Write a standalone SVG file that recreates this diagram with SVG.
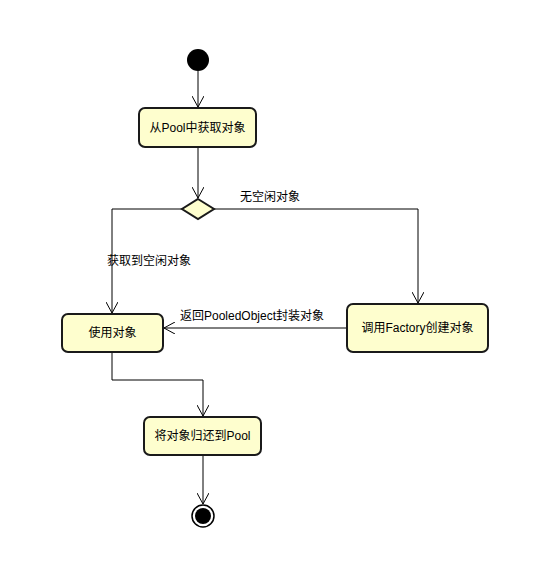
<svg xmlns="http://www.w3.org/2000/svg" width="552" height="564" viewBox="0 0 552 564">
<defs>
<marker id="arr" viewBox="0 0 12 12" refX="11" refY="6" markerWidth="12" markerHeight="12" markerUnits="userSpaceOnUse" orient="auto">
<path d="M0,0 L11,6 L0,12" fill="none" stroke="#000" stroke-width="1"/>
</marker>
<style>
.node{fill:#fefece;stroke:#1a1a1a;stroke-width:2}
.t{font-family:"Liberation Sans","Noto Sans CJK SC",sans-serif;font-size:12px;fill:#000}
.c{fill:none;stroke:#000;stroke-width:1}
</style>
</defs>
<rect width="552" height="564" fill="#fff"/>
<g id="connectors">
<path class="c" d="M198,71 L198,107" marker-end="url(#arr)"/>
<path class="c" d="M198,147 L198,198" marker-end="url(#arr)"/>
<path class="c" d="M182,209 L112,209 L112,313" marker-end="url(#arr)"/>
<path class="c" d="M213,209 L418,209 L418,303" marker-end="url(#arr)"/>
<path class="c" d="M347,328 L164,328" marker-end="url(#arr)"/>
<path class="c" d="M112,353 L112,380 L203,380 L203,416" marker-end="url(#arr)"/>
<path class="c" d="M203,456 L203,504" marker-end="url(#arr)"/>
<text class="t" x="240" y="201">无空闲对象</text>
<text class="t" x="107" y="265">获取到空闲对象</text>
<text class="t" x="180" y="320">返回PooledObject封装对象</text>
</g>
<g id="start"><circle cx="198" cy="60" r="11" fill="#000"/></g>
<g id="n1"><rect class="node" x="139" y="108" width="117" height="39" rx="6"/><text class="t" x="197.5" y="131.5" text-anchor="middle">从Pool中获取对象</text></g>
<g id="decision"><polygon class="node" points="198,199 214,209 198,219 182,209"/></g>
<g id="n2"><rect class="node" x="62" y="314" width="101" height="38" rx="6"/><text class="t" x="112.5" y="337" text-anchor="middle">使用对象</text></g>
<g id="n3"><rect class="node" x="347" y="304" width="141" height="48" rx="6"/><text class="t" x="417.5" y="332" text-anchor="middle">调用Factory创建对象</text></g>
<g id="n4"><rect class="node" x="144" y="417" width="117" height="38" rx="6"/><text class="t" x="202.5" y="440" text-anchor="middle">将对象归还到Pool</text></g>
<g id="end"><circle cx="203" cy="516" r="11" fill="#fff" stroke="#000" stroke-width="1.5"/><circle cx="203" cy="516" r="8" fill="#000"/></g>
</svg>
